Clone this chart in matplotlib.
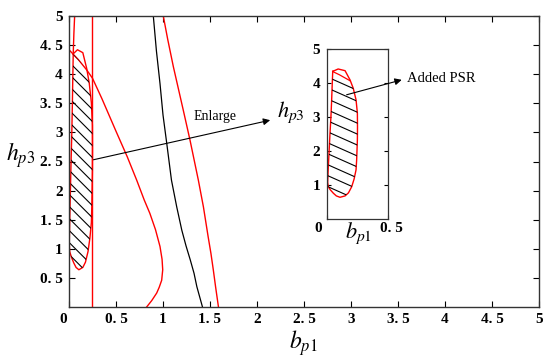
import numpy as np
import matplotlib
matplotlib.use('Agg')
import matplotlib.pyplot as plt
from matplotlib.patches import Polygon
from matplotlib.lines import Line2D
from matplotlib.transforms import ScaledTranslation, IdentityTransform

plt.rcParams['mathtext.fontset'] = 'stix'
plt.rcParams['font.family'] = ['Liberation Serif', 'DejaVu Serif']

# ---------------- data ----------------
vline_x = 0.248

left_x = [0.06, 0.052, 0.045]
left_y = [5.0, 4.7, 4.35]

diag_x = [0.0, 0.1, 0.19, 0.25, 0.35, 0.5, 0.62, 0.72, 0.80, 0.86, 0.92, 0.968, 0.99, 0.997,
          0.986, 0.96, 0.933, 0.88, 0.826]
diag_y = [4.42, 4.25, 4.07, 3.93, 3.58, 3.02, 2.58, 2.18, 1.84, 1.61, 1.33, 1.04, 0.82, 0.64,
          0.46, 0.34, 0.24, 0.11, 0.0]

black_x = [0.897, 0.93, 0.968, 1.0, 1.04, 1.09, 1.146, 1.2, 1.245, 1.29, 1.33, 1.36, 1.42]
black_y = [5.0, 4.4, 3.84, 3.3, 2.81, 2.18, 1.72, 1.32, 1.05, 0.81, 0.58, 0.35, 0.0]

right_x = [1.003, 1.05, 1.11, 1.216, 1.287, 1.376, 1.43, 1.48, 1.51, 1.535, 1.56, 1.59]
right_y = [5.0, 4.6, 4.13, 3.38, 2.87, 2.18, 1.72, 1.21, 0.92, 0.64, 0.34, 0.0]

psr_x = [0.045, 0.09, 0.147, 0.188, 0.215, 0.238, 0.249, 0.250, 0.249, 0.243, 0.238,
         0.222, 0.202, 0.175, 0.147, 0.105, 0.075, 0.05, 0.025, 0.008, 0.003, 0.008,
         0.015, 0.022, 0.03, 0.036, 0.04, 0.045]
psr_y = [4.35, 4.42, 4.37, 4.10, 3.85, 3.51, 3.12, 2.70, 2.33, 1.74, 1.45,
         1.18, 0.95, 0.77, 0.68, 0.64, 0.68, 0.76, 0.86, 0.95, 1.08, 1.5,
         2.0, 2.5, 3.0, 3.5, 3.9, 4.35]

main_xticks = [0, 0.5, 1, 1.5, 2, 2.5, 3, 3.5, 4, 4.5, 5]
main_xticklabels = ['0', '0. 5', '1', '1. 5', '2', '2. 5', '3', '3. 5', '4', '4. 5', '5']
main_yticks = [0.5, 1, 1.5, 2, 2.5, 3, 3.5, 4, 4.5, 5]
main_yticklabels = ['0. 5', '1', '1. 5', '2', '2. 5', '3', '3. 5', '4', '4. 5', '5']
inset_xticks = [0, 0.5]
inset_xticklabels = ['0', '0. 5']
inset_yticks = [1, 2, 3, 4, 5]
inset_yticklabels = ['1', '2', '3', '4', '5']

# ---------------- helpers ----------------
def densify(xs, ys, n=25):
    ox, oy = [], []
    for i in range(len(xs) - 1):
        t = np.linspace(0, 1, n, endpoint=False)
        ox.extend(xs[i] + (xs[i + 1] - xs[i]) * t)
        oy.extend(ys[i] + (ys[i + 1] - ys[i]) * t)
    ox.append(xs[-1]); oy.append(ys[-1])
    return np.array(ox), np.array(oy)


def hatch(ax, xs, ys, angle_deg, spacing_px, lw=0.8):
    poly = Polygon(np.column_stack([xs, ys]), closed=True, transform=ax.transData,
                   facecolor='none', edgecolor='none')
    ax.add_patch(poly)
    pts = ax.transData.transform(np.column_stack([xs, ys]))
    th = np.deg2rad(angle_deg)
    d = np.array([np.cos(th), np.sin(th)])
    nrm = np.array([-d[1], d[0]])
    proj = pts @ nrm
    tproj = pts @ d
    t0, t1 = tproj.min() - 5, tproj.max() + 5
    for off in np.arange(proj.min() + spacing_px * 0.5, proj.max(), spacing_px):
        p0 = nrm * off + d * t0
        p1 = nrm * off + d * t1
        ln = Line2D([p0[0], p1[0]], [p0[1], p1[1]], color='black', lw=lw,
                    transform=IdentityTransform())
        ln.set_clip_path(poly)
        ax.add_artist(ln)


def shift_label(lbl, dx_px, dy_px, fig):
    off = ScaledTranslation(dx_px / fig.dpi, dy_px / fig.dpi, fig.dpi_scale_trans)
    lbl.set_transform(lbl.get_transform() + off)

# ---------------- figure ----------------
fig = plt.figure(figsize=(5.5, 3.62), dpi=100)
ax = fig.add_axes([69 / 550, 55 / 362, 470 / 550, 291 / 362])
ax.set_xlim(0, 5)
ax.set_ylim(0, 5)

red = '#ff0000'
ax.plot([vline_x, vline_x], [0, 5], color=red, lw=1.0)
ax.plot(left_x, left_y, color=red, lw=1.0)
ax.plot(diag_x, diag_y, color=red, lw=1.0)
ax.plot(black_x, black_y, color='black', lw=0.9)
ax.plot(right_x, right_y, color=red, lw=1.0)
ax.plot(psr_x, psr_y, color=red, lw=1.0)

# hatched region: PSR contour below the diagonal curve
hx, hy = densify(psr_x, psr_y)
kmax = int(np.argmax(diag_x)) + 1
cap = np.interp(hx, diag_x[:kmax], diag_y[:kmax])
hy_c = np.minimum(hy, cap)
hatch(ax, hx, hy_c, -45, 8.5, lw=0.8)

ax.set_xticks(main_xticks)
ax.set_xticklabels(main_xticklabels, fontweight='bold')
ax.set_yticks(main_yticks)
ax.set_yticklabels(main_yticklabels, fontweight='bold')
ax.tick_params(direction='in', length=4, width=0.8, top=True, right=True,
               labelsize=11, colors='black')
ax.tick_params(axis='x', pad=4)
ax.tick_params(axis='y', pad=4.5)
for s in ax.spines.values():
    s.set_color('#333333')
    s.set_linewidth(1.0)
shift_label(ax.get_xticklabels()[0], -6, 0, fig)

ax.text(0.498, -0.125, r'$b_{p1}$', transform=ax.transAxes, ha='center', va='center',
        fontsize=17)
ax.text(-0.102, 0.522, r'$h_{p3}$', transform=ax.transAxes, ha='center', va='center',
        fontsize=17)

ax.annotate('', xy=(2.14, 3.21), xytext=(0.26, 2.53),
            arrowprops=dict(arrowstyle='-|>', color='black', lw=0.8,
                            shrinkA=0, shrinkB=0, mutation_scale=10))
ax.text(1.32, 3.27, 'Enlarge', ha='left', va='center', fontsize=10)

# ---------------- inset ----------------
ax2 = fig.add_axes([327.3 / 550, (362 - 219) / 362, 60.4 / 550, 169.7 / 362])
ax2.set_xlim(0, 0.5)
ax2.set_ylim(0, 5)
ax2.plot(psr_x, psr_y, color=red, lw=1.0)
clip_poly = Polygon(np.column_stack([psr_x, psr_y]), closed=True, transform=ax2.transData,
                    facecolor='none', edgecolor='none')
ax2.add_patch(clip_poly)
dl, = ax2.plot(diag_x, diag_y, color=red, lw=0.9)
dl.set_clip_path(clip_poly)
hatch(ax2, hx, hy_c, -24, 10, lw=0.8)

ax2.set_xticks(inset_xticks)
ax2.set_xticklabels(inset_xticklabels, fontweight='bold')
ax2.set_yticks(inset_yticks)
ax2.set_yticklabels(inset_yticklabels, fontweight='bold')
ax2.tick_params(direction='in', length=3, width=0.8, right=True, labelsize=11)
ax2.tick_params(axis='x', pad=2)
ax2.tick_params(axis='y', pad=5)
for s in ax2.spines.values():
    s.set_color('#333333')
    s.set_linewidth(0.9)
xl = ax2.get_xticklabels()
shift_label(xl[0], -9, 0, fig)
shift_label(xl[1], 4, 0, fig)

ax2.text(0.525, -0.085, r'$b_{p1}$', transform=ax2.transAxes, ha='center', va='center',
         fontsize=16)
ax2.text(-0.60, 0.63, r'$h_{p3}$', transform=ax2.transAxes, ha='center', va='center',
         fontsize=16)

ax2.annotate('', xy=(0.616, 4.1), xytext=(0.16, 3.66), annotation_clip=False,
             arrowprops=dict(arrowstyle='-|>', color='black', lw=0.8,
                             shrinkA=0, shrinkB=0, mutation_scale=10))
ax2.text(0.657, 4.13, 'Added PSR', ha='left', va='center', fontsize=10.5, clip_on=False)

fig.savefig('out.png', dpi=100)
